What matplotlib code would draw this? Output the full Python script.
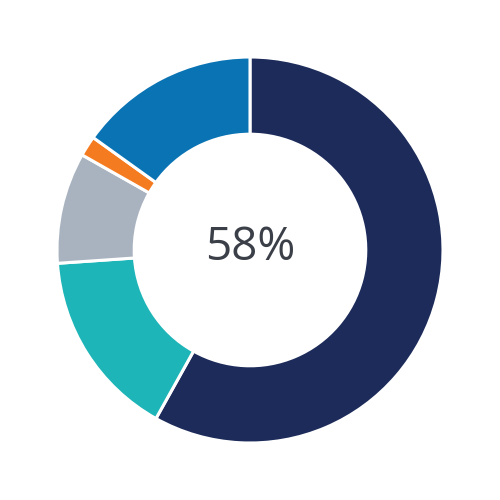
import matplotlib
matplotlib.use('Agg')
import matplotlib.pyplot as plt

# Segment shares (clockwise from 12 o'clock)
labels = ['Navy', 'Teal', 'Gray', 'Orange', 'Blue']
values = [58.1, 15.8, 9.3, 1.7, 15.1]
colors = ['#1c2b5a', '#1db5b7', '#a9b3c0', '#f47b20', '#0a73b3']
center_label = '58%'

fig = plt.figure(figsize=(5, 5), dpi=100)
ax = fig.add_axes([0, 0, 1, 1])

ax.pie(values, colors=colors, startangle=90, counterclock=False,
       radius=1.0,
       wedgeprops=dict(width=0.4, edgecolor='white', linewidth=2.2))

ax.text(0, 0.01, center_label, ha='center', va='center',
        fontsize=33, color='#3b3f48', family='Open Sans')

lim = 250 / 193
ax.set_xlim(-lim, lim)
ax.set_ylim(-lim, lim)
ax.set_aspect('equal')
ax.axis('off')

fig.savefig('out.png', dpi=100, facecolor='white')
